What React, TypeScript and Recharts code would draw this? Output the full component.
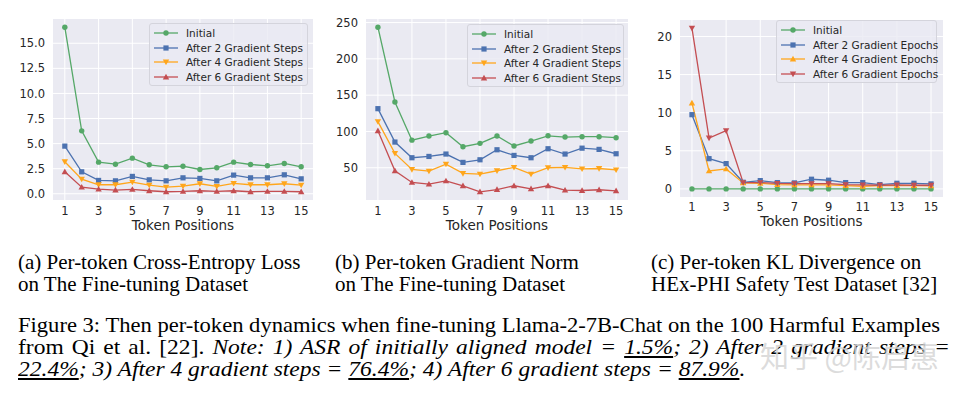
import React from "react";
import { LineChart, Line, XAxis, YAxis, CartesianGrid, Label } from "recharts";

// token positions along x
const positions = [1, 2, 3, 4, 5, 6, 7, 8, 9, 10, 11, 12, 13, 14, 15];
const xTicks = [1, 3, 5, 7, 9, 11, 13, 15];

// (a) per-token cross-entropy loss
const lossInitial = [16.6, 6.27, 3.15, 2.95, 3.55, 2.89, 2.69, 2.75, 2.42, 2.59, 3.15, 2.92, 2.79, 3.02, 2.69];
const lossStep2 = [4.75, 2.19, 1.33, 1.29, 1.73, 1.39, 1.29, 1.59, 1.53, 1.29, 1.86, 1.59, 1.59, 1.89, 1.49];
const lossStep4 = [3.19, 1.46, 0.9, 0.9, 1.16, 0.86, 0.66, 0.76, 1.0, 0.73, 1.03, 0.9, 0.9, 1.0, 0.86];
const lossStep6 = [2.19, 0.66, 0.46, 0.37, 0.43, 0.3, 0.2, 0.23, 0.3, 0.23, 0.3, 0.2, 0.23, 0.23, 0.2];
const lossTicks = [0, 2.5, 5, 7.5, 10, 12.5, 15];

// (b) per-token gradient norm
const normInitial = [243.6, 140.6, 88, 93.7, 98.3, 79, 83.6, 93.7, 80, 86.8, 94, 92.3, 92.8, 92.8, 91.4];
const normStep2 = [131.4, 85.4, 63.8, 65.6, 68.9, 57.4, 61, 74.8, 67, 63.8, 76.2, 68.9, 77, 75.3, 69.3];
const normStep4 = [113.5, 69.8, 47.7, 45.4, 55, 42.2, 41.3, 45.9, 50.5, 41.3, 50, 50.5, 48.6, 49, 47.2];
const normStep6 = [101, 45.9, 29.8, 27.5, 32, 25.2, 16.9, 20, 25.2, 21, 25.2, 19.2, 18.7, 19.7, 18.3];
const normTicks = [50, 100, 150, 200, 250];

// (c) per-token KL divergence on HEx-PHI
const klInitial = [0, 0, 0, 0, 0, 0, 0, 0, 0, 0, 0, 0, 0, 0, 0];
const klEpoch2 = [9.74, 3.97, 3.32, 0.87, 1.09, 0.83, 0.79, 1.27, 1.14, 0.83, 0.83, 0.57, 0.74, 0.74, 0.66];
const klEpoch4 = [11.27, 2.36, 2.62, 0.79, 0.74, 0.57, 0.52, 0.52, 0.52, 0.44, 0.35, 0.44, 0.44, 0.44, 0.39];
const klEpoch6 = [21.1, 6.68, 7.64, 0.83, 0.83, 0.74, 0.7, 0.7, 0.7, 0.57, 0.52, 0.48, 0.52, 0.48, 0.48];
const klTicks = [0, 5, 10, 15, 20];

const stepNames = ["Initial", "After 2 Gradient Steps", "After 4 Gradient Steps", "After 6 Gradient Steps"];
const epochNames = ["Initial", "After 2 Gradient Epochs", "After 4 Gradient Epochs", "After 6 Gradient Epochs"];

const GREEN = "#55a868";
const BLUE = "#4c72b0";
const ORANGE = "#ffa61c";
const RED = "#c44e52";
const TEXT = "#262626";
const SANS = "'DejaVu Sans', sans-serif";
const SERIF = "'Liberation Serif', 'Times New Roman', serif";

type Shape = "circle" | "square" | "down" | "up";

interface Series {
  name: string;
  values: number[];
  color: string;
  shape: Shape;
}

function Marker({ shape, x, y, color }: { shape: Shape; x: number; y: number; color: string }) {
  if (shape === "circle") return <circle cx={x} cy={y} r={2.7} fill={color} />;
  if (shape === "square") return <rect x={x - 2.6} y={y - 2.6} width={5.2} height={5.2} fill={color} />;
  if (shape === "down")
    return <path d={`M${x - 3.2},${y - 2.4}L${x + 3.2},${y - 2.4}L${x},${y + 3.2}Z`} fill={color} />;
  return <path d={`M${x - 3.2},${y + 2.4}L${x + 3.2},${y + 2.4}L${x},${y - 3.2}Z`} fill={color} />;
}

const makeDot = (shape: Shape, color: string) => (p: any) => {
  const { cx, cy, index } = p;
  if (cx == null || cy == null) return <g key={`e-${index}`} />;
  return <Marker key={`d-${index}`} shape={shape} x={cx} y={cy} color={color} />;
};

interface PanelProps {
  left: number;
  width: number;
  plotLeft: number;
  plotRight: number;
  plotTop: number;
  plotBottom: number;
  yDomain: [number, number];
  yTicks: number[];
  yFormat: (v: number) => string;
  series: Series[];
  legend: { left: number; top: number; width: number };
  tickGap: number;
  labelOffset: number;
}

function Panel(props: PanelProps) {
  const { left, width, plotLeft, plotRight, plotTop, plotBottom, series, legend } = props;
  const height = 240;
  const rows = positions.map((pos, i) => {
    const r: Record<string, number> = { pos };
    series.forEach((s, k) => (r[`s${k}`] = s.values[i]));
    return r;
  });

  return (
    <div style={{ position: "absolute", left, top: 0, width, height }}>
      <LineChart
        width={width}
        height={height}
        data={rows}
        margin={{ top: plotTop, right: width - plotRight, bottom: 0, left: 0 }}
      >
        <CartesianGrid fill="#eaeaf2" stroke="#ffffff" strokeWidth={1} verticalValues={xTicks} horizontalValues={props.yTicks} />
        <XAxis
          dataKey="pos"
          type="number"
          domain={[0.3, 15.7]}
          ticks={xTicks}
          allowDataOverflow
          axisLine={false}
          tickLine={false}
          tickSize={0}
          tickMargin={props.tickGap}
          height={height - plotBottom}
          tick={{ fill: TEXT, fontSize: 11.5, fontFamily: SANS }}
        >
          <Label
            value="Token Positions"
            position="insideBottom"
            offset={props.labelOffset}
            style={{ fill: TEXT, fontSize: 13.5, fontFamily: SANS }}
          />
        </XAxis>
        <YAxis
          type="number"
          domain={props.yDomain}
          ticks={props.yTicks}
          allowDataOverflow
          axisLine={false}
          tickLine={false}
          tickSize={0}
          tickMargin={8}
          width={plotLeft}
          tickFormatter={props.yFormat}
          tick={{ fill: TEXT, fontSize: 11.5, fontFamily: SANS }}
        />
        {series.map((s, k) => (
          <Line
            key={s.name}
            dataKey={`s${k}`}
            stroke={s.color}
            strokeWidth={1.3}
            dot={makeDot(s.shape, s.color)}
            activeDot={false}
            isAnimationActive={false}
          />
        ))}
      </LineChart>
      <div
        style={{
          position: "absolute",
          left: legend.left,
          top: legend.top,
          width: legend.width,
          height: 63,
          boxSizing: "border-box",
          background: "rgba(234,234,242,0.8)",
          border: "1px solid #d4d4dc",
          borderRadius: 3,
          padding: "2px 0 0 3px",
        }}
      >
        {series.map((s) => (
          <div key={s.name} style={{ display: "flex", alignItems: "center", height: 14.6 }}>
            <svg width={26} height={10} style={{ flexShrink: 0 }}>
              <line x1={1} y1={5} x2={25} y2={5} stroke={s.color} strokeWidth={1.3} />
              <Marker shape={s.shape} x={13} y={5} color={s.color} />
            </svg>
            <span
              style={{
                marginLeft: 7,
                fontFamily: SANS,
                fontSize: 10.5,
                color: TEXT,
                whiteSpace: "nowrap",
                lineHeight: "12px",
              }}
            >
              {s.name}
            </span>
          </div>
        ))}
      </div>
    </div>
  );
}

const capLine: React.CSSProperties = {
  position: "absolute",
  fontFamily: SERIF,
  fontSize: 21,
  lineHeight: "21px",
  color: "#000",
  whiteSpace: "nowrap",
};

// the figure caption in the reference runs a little wider than the sub-captions
const figLine = (scale: number): React.CSSProperties => ({
  ...capLine,
  transform: `scaleX(${scale})`,
  transformOrigin: "left top",
});

const u: React.CSSProperties = { textDecoration: "underline" };

export default function App() {
  const lossSeries: Series[] = [
    { name: stepNames[0], values: lossInitial, color: GREEN, shape: "circle" },
    { name: stepNames[1], values: lossStep2, color: BLUE, shape: "square" },
    { name: stepNames[2], values: lossStep4, color: ORANGE, shape: "down" },
    { name: stepNames[3], values: lossStep6, color: RED, shape: "up" },
  ];
  const normSeries: Series[] = [
    { name: stepNames[0], values: normInitial, color: GREEN, shape: "circle" },
    { name: stepNames[1], values: normStep2, color: BLUE, shape: "square" },
    { name: stepNames[2], values: normStep4, color: ORANGE, shape: "down" },
    { name: stepNames[3], values: normStep6, color: RED, shape: "up" },
  ];
  const klSeries: Series[] = [
    { name: epochNames[0], values: klInitial, color: GREEN, shape: "circle" },
    { name: epochNames[1], values: klEpoch2, color: BLUE, shape: "square" },
    { name: epochNames[2], values: klEpoch4, color: ORANGE, shape: "up" },
    { name: epochNames[3], values: klEpoch6, color: RED, shape: "down" },
  ];

  return (
    <div
      style={{
        position: "absolute",
        left: 0,
        top: 0,
        width: 966,
        height: 398,
        background: "#fff",
        overflow: "hidden",
      }}
    >
      <Panel
        left={0}
        width={320}
        plotLeft={53}
        plotRight={313}
        plotTop={19}
        plotBottom={200}
        yDomain={[-0.62, 17.42]}
        yTicks={lossTicks}
        yFormat={(v) => v.toFixed(1)}
        series={lossSeries}
        legend={{ left: 149, top: 23, width: 159 }}
        tickGap={7}
        labelOffset={10}
      />
      <Panel
        left={320}
        width={320}
        plotLeft={46}
        plotRight={308}
        plotTop={19}
        plotBottom={200}
        yDomain={[5.6, 254.9]}
        yTicks={normTicks}
        yFormat={(v) => String(v)}
        series={normSeries}
        legend={{ left: 147, top: 24, width: 157 }}
        tickGap={7}
        labelOffset={10}
      />
      <Panel
        left={640}
        width={326}
        plotLeft={40}
        plotRight={303}
        plotTop={20}
        plotBottom={197}
        yDomain={[-1.06, 22.16]}
        yTicks={klTicks}
        yFormat={(v) => String(v)}
        series={klSeries}
        legend={{ left: 136, top: 20, width: 161 }}
        tickGap={6}
        labelOffset={14}
      />

      <div style={{ ...capLine, left: 18, top: 252 }}>(a) Per-token Cross-Entropy Loss</div>
      <div style={{ ...capLine, left: 18, top: 274 }}>on The Fine-tuning Dataset</div>
      <div style={{ ...capLine, left: 335, top: 252 }}>(b) Per-token Gradient Norm</div>
      <div style={{ ...capLine, left: 335, top: 274 }}>on The Fine-tuning Dataset</div>
      <div style={{ ...capLine, left: 651, top: 252 }}>(c) Per-token KL Divergence on</div>
      <div style={{ ...capLine, left: 651, top: 274 }}>HEx-PHI Safety Test Dataset [32]</div>

      <div style={{ ...figLine(1.075), left: 18, top: 315 }}>
        Figure 3: Then per-token dynamics when fine-tuning Llama-2-7B-Chat on the 100 Harmful Examples
      </div>
      <div
        style={{
          ...figLine(1.12),
          left: 18,
          top: 337,
          width: 832,
          textAlign: "justify",
          textAlignLast: "justify",
        }}
      >
        from Qi et al. [22].{" "}
        <i>
          Note: 1) ASR of initially aligned model = <span style={u}>1.5%</span>; 2) After 2 gradient steps =
        </i>
      </div>
      <div style={{ ...figLine(1.12), left: 18, top: 359 }}>
        <i>
          <span style={u}>22.4%</span>; 3) After 4 gradient steps = <span style={u}>76.4%</span>; 4) After 6
          gradient steps = <span style={u}>87.9%</span>.
        </i>
      </div>

      <div
        style={{
          position: "absolute",
          left: 760,
          top: 340,
          fontFamily: "'Noto Sans CJK SC', sans-serif",
          fontSize: 29,
          lineHeight: "30px",
          color: "rgba(214,214,214,0.85)",
          whiteSpace: "nowrap",
        }}
      >
        知乎 @陈启惠
      </div>
    </div>
  );
}
